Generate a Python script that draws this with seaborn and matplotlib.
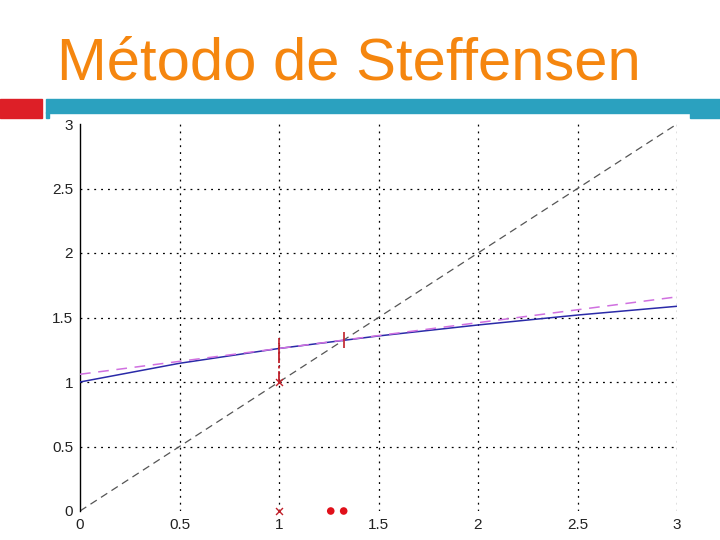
import numpy as np
import pandas as pd
import matplotlib
matplotlib.use("Agg")
import matplotlib.pyplot as plt
from matplotlib.patches import Rectangle
import seaborn as sns

# data
x_pts = [0, 0.5, 1, 1.5, 2, 2.5, 3]
g_vals = [1.0, 1.145, 1.26, 1.357, 1.442, 1.519, 1.587]      # blue solid curve
h_vals = [1.06, 1.16, 1.26, 1.36, 1.46, 1.56, 1.66]          # magenta dashed
diag_x = [0, 3]
diag_y = [0, 3]
step_x = [1, 1]
step_y = [1.0, 1.30]
iter_x = [1.0, 1.325]
iter_y = [1.28, 1.325]
cross_x = [1.0, 1.0]
cross_y = [1.0, 0.0]
dots_x = [1.26, 1.325]
dots_y = [0, 0]
ticks = [0, 0.5, 1, 1.5, 2, 2.5, 3]
tick_labels = ["0", "0.5", "1", "1.5", "2", "2.5", "3"]

sns.set_style("white")
plt.rcParams['font.family'] = ['Liberation Sans', 'DejaVu Sans']

fig = plt.figure(figsize=(7.2, 5.4), dpi=100)

# slide decoration
fig.text(57 / 720, 1 - 80 / 540, "Método de Steffensen", color="#F5860F",
         fontsize=43, ha="left", va="baseline")
fig.patches.append(Rectangle((0, 1 - 118 / 540), 42 / 720, 19 / 540,
                             transform=fig.transFigure, color="#DD1F27", zorder=0))
fig.patches.append(Rectangle((46 / 720, 1 - 113 / 540), 674 / 720, 14 / 540,
                             transform=fig.transFigure, color="#2BA1BF", zorder=0))
fig.patches.append(Rectangle((690 / 720, 1 - 118 / 540), 30 / 720, 6 / 540,
                             transform=fig.transFigure, color="#2BA1BF", zorder=0))
fig.patches.append(Rectangle((46 / 720, 1 - 118 / 540), 3 / 720, 6 / 540,
                             transform=fig.transFigure, color="#2BA1BF", zorder=0))

ax = fig.add_axes([80 / 720, 1 - 511 / 540, 597 / 720, 387 / 540])

# dotted grid, without the lines on the frame at y=0 and y=3
for t in ticks[1:]:
    ax.axvline(t, color="black", linestyle=(0, (1.5, 4)), lw=0.9, zorder=1)
for t in ticks[1:-1]:
    ax.axhline(t, color="black", linestyle=(0, (1.5, 4)), lw=0.9, zorder=1)

sns.lineplot(x=diag_x, y=diag_y, ax=ax, color="#555555", lw=0.9,
             linestyle=(0, (6, 4)), zorder=2)
sns.lineplot(x=x_pts, y=g_vals, ax=ax, color="#2a2aa8", lw=1.1, zorder=3)
sns.lineplot(x=x_pts, y=h_vals, ax=ax, color="#d070e0", lw=1.1,
             linestyle=(0, (7, 5)), zorder=3)
# vertical step: no aggregation over the repeated x
sns.lineplot(x=step_x, y=step_y, ax=ax, color="#c0202a", lw=1.3,
             linestyle=(0, (6, 1.5, 1.5, 1.5)), zorder=4,
             estimator=None, sort=False)
sns.scatterplot(x=iter_x, y=iter_y, ax=ax, marker="|", s=120, color="#c0202a",
                linewidth=1.2, zorder=5)
sns.scatterplot(x=cross_x, y=cross_y, ax=ax, marker="x", s=25, color="#c0202a",
                linewidth=1.0, zorder=5, clip_on=False)
sns.scatterplot(x=dots_x, y=dots_y, ax=ax, marker="o", s=30, color="#e0101a",
                edgecolor="none", zorder=6, clip_on=False)

ax.set_xlim(0, 3)
ax.set_ylim(0, 3)
ax.set_xticks(ticks)
ax.set_xticklabels(tick_labels)
ax.set_yticks(ticks)
ax.set_yticklabels(tick_labels)
ax.tick_params(length=0, labelsize=11, colors="#222222", pad=5)
ax.grid(False)
for side in ["top", "right", "bottom"]:
    ax.spines[side].set_visible(False)
ax.spines["left"].set_color("black")
ax.spines["left"].set_linewidth(1.0)

fig.savefig("out.png", dpi=100)
